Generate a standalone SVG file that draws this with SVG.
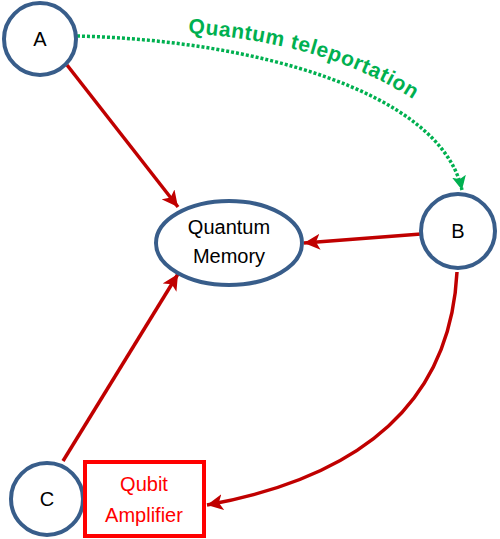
<svg xmlns="http://www.w3.org/2000/svg" width="500" height="539" viewBox="0 0 500 539">
<style>
.node{fill:#fff;stroke:#385D8A;stroke-width:4}
.lbl{font-family:"Liberation Sans",Arial,sans-serif;font-size:20px;fill:#000;text-anchor:middle}
.red{fill:none;stroke:#C00000;stroke-width:3.5}
.green{fill:none;stroke:#00B050;stroke-width:3.5;stroke-dasharray:3 2}
.amp{font-family:"Liberation Sans",Arial,sans-serif;font-size:20px;fill:#FF0000;text-anchor:middle}
</style>
<defs>
<marker id="ar" markerUnits="userSpaceOnUse" markerWidth="18" markerHeight="16" refX="16" refY="8" orient="auto">
<path d="M0,0 L16,8 L0,16 L4,8 Z" fill="#C00000"/>
</marker>
<marker id="ag" markerUnits="userSpaceOnUse" markerWidth="16" markerHeight="14" refX="14" refY="7" orient="auto">
<path d="M0,0 L14,7 L0,14 L3,7 Z" fill="#00B050"/>
</marker>
<path id="tp" d="M188,33 C280,40 360,60 432,112"/>
</defs>
<g id="connectors">
<path class="green" d="M77,36 C250,40 440,90 462,190" marker-end="url(#ag)"/>
<line class="red" x1="67" y1="65" x2="178" y2="207" marker-end="url(#ar)"/>
<line class="red" x1="421" y1="234" x2="304" y2="243" marker-end="url(#ar)"/>
<line class="red" x1="63" y1="461" x2="178" y2="274" marker-end="url(#ar)"/>
<path class="red" d="M457,272 C452,370 400,470 207,505" marker-end="url(#ar)"/>
<text font-family="Liberation Sans,Arial,sans-serif" font-size="21" font-weight="bold" fill="#00B050" letter-spacing="0.6"><textPath href="#tp">Quantum teleportation</textPath></text>
</g>
<g id="A">
<circle class="node" cx="40" cy="39" r="36"/>
<text class="lbl" x="40" y="46">A</text>
</g>
<g id="B">
<circle class="node" cx="458" cy="231" r="37"/>
<text class="lbl" x="458" y="238">B</text>
</g>
<g id="memory">
<ellipse class="node" cx="229" cy="243" rx="73" ry="42"/>
<text class="lbl" x="229" y="234" font-size="19">Quantum</text>
<text class="lbl" x="229" y="263" font-size="19">Memory</text>
</g>
<g id="C">
<circle class="node" cx="47" cy="499" r="36"/>
<text class="lbl" x="47" y="506">C</text>
</g>
<g id="amplifier">
<rect x="85" y="462" width="119" height="74" fill="#fff" stroke="#FF0000" stroke-width="4"/>
<text class="amp" x="144" y="491">Qubit</text>
<text class="amp" x="144" y="522">Amplifier</text>
</g>
</svg>
